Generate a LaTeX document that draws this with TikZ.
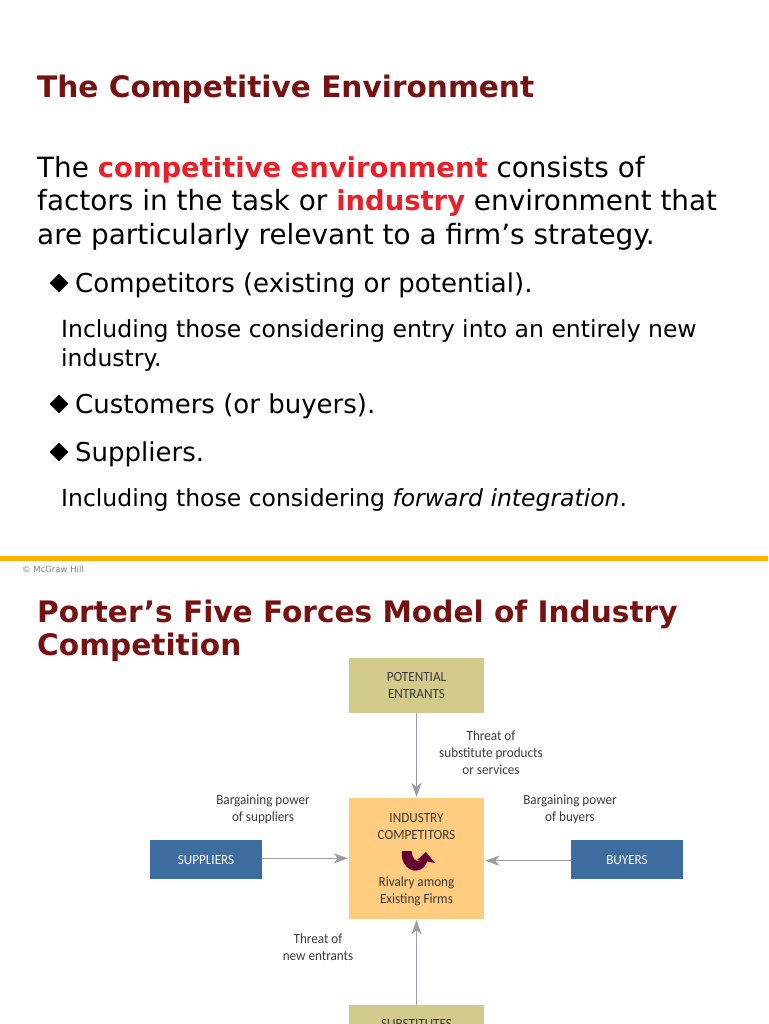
\documentclass[tikz,border=0pt]{standalone}
\usepackage{fontspec}
\setmainfont{DejaVu Sans}
\newfontfamily\figfont[FakeStretch=0.94]{Carlito}
\usetikzlibrary{arrows.meta,shapes}
\definecolor{titlered}{HTML}{761212}
\definecolor{keyred}{HTML}{E8202A}
\definecolor{rulegold}{HTML}{FFB300}
\definecolor{olivebox}{HTML}{D2CB8C}
\definecolor{orangebox}{HTML}{FFCC80}
\definecolor{bluebox}{HTML}{3D6CA0}
\definecolor{forcegray}{HTML}{9A9CA0}
\definecolor{figtext}{HTML}{3F3A3A}
\definecolor{swirl}{HTML}{660033}
\newcommand{\keyword}[1]{{\fontsize{27.4}{33.5}\selectfont\bfseries\color{keyred}#1}}
\tikzset{>=Stealth}
\tikzset{
  slidetitle/.style={anchor=base west,inner sep=0pt,align=left,text=titlered,font=\fontsize{29.6}{32.5}\selectfont\bfseries},
  bodytext/.style={anchor=base west,inner sep=0pt,align=left,font=\fontsize{27.9}{33.5}\selectfont},
  itemtext/.style={anchor=base west,inner sep=0pt,align=left,font=\fontsize{26}{30}\selectfont},
  subtext/.style={anchor=base west,inner sep=0pt,align=left,font=\fontsize{23.5}{29}\selectfont},
  itemmark/.style={diamond,fill=black,inner sep=0pt,minimum width=19pt,minimum height=19pt},
  forcebox/.style={inner sep=0pt,align=center,text=figtext,font=\figfont\fontsize{14}{17}\selectfont},
  forcenote/.style={inner sep=0pt,align=center,text=figtext,font=\figfont\fontsize{14}{17}\selectfont},
  forcearrow/.style={draw=forcegray,line width=1.5pt,-{Stealth[length=14pt,width=10pt,inset=4pt]},shorten >=1pt},
}
\begin{document}
\begin{tikzpicture}[x=1pt,y=-1pt]
\useasboundingbox (0,0) rectangle (768,1024);
\fill[white] (0,0) rectangle (768,1024);

\node[slidetitle] (title1) at (37,98) {The Competitive Environment};
\node[bodytext] (body) at (37,244) {The \keyword{competitive environment} consists of\\
factors in the task or \keyword{industry} environment that\\
are particularly relevant to a firm’s strategy.};

\node[itemmark] (mark1) at (59,283) {};
\node[itemtext] (item1) at (75,292) {Competitors (existing or potential).};
\node[subtext] (sub1) at (61,366) {Including those considering entry into an entirely new\\industry.};
\node[itemmark] (mark2) at (59,404) {};
\node[itemtext] (item2) at (75,413) {Customers (or buyers).};
\node[itemmark] (mark3) at (59,452) {};
\node[itemtext] (item3) at (75,461) {Suppliers.};
\node[subtext] (sub2) at (61,506) {Including those considering \textit{forward integration}.};

\fill[rulegold] (0,556) rectangle (768,561);
\node[anchor=base west,inner sep=0pt,text=gray,font=\fontsize{8.5}{10}\selectfont] (credit) at (22,572) {© McGraw Hill};

\node[slidetitle] (title2) at (37,655) {Porter’s Five Forces Model of Industry\\Competition};

\node[forcebox,fill=olivebox,minimum width=135pt,minimum height=55pt] (entrants) at (416.5,685.5) {POTENTIAL\\ENTRANTS};
\node[forcebox,fill=orangebox,minimum width=135pt,minimum height=121pt] (competitors) at (416.5,858.5) {};
\node[forcebox,anchor=center] (competitors1) at (416.5,826.5) {INDUSTRY\\COMPETITORS};
\node[forcebox,anchor=center] (competitors2) at (416.5,891) {Rivalry among\\Existing Firms};
\node[forcebox,fill=bluebox,text=white,minimum width=112pt,minimum height=39pt] (suppliers) at (206,859.5) {SUPPLIERS};
\node[forcebox,fill=bluebox,text=white,minimum width=112pt,minimum height=39pt] (buyers) at (627,859.5) {BUYERS};
\node[forcebox,fill=olivebox,minimum width=135pt,minimum height=55pt] (substitutes) at (416.5,1032.5) {SUBSTITUTES\\\phantom{X}};

\node[forcenote] (note1) at (491,752.5) {Threat of\\substitute products\\or services};
\node[forcenote] (note2) at (263,809.5) {Bargaining power\\of suppliers};
\node[forcenote] (note3) at (570,809.5) {Bargaining power\\of buyers};
\node[forcenote] (note4) at (318,947.5) {Threat of\\new entrants};

\draw[forcearrow] (entrants.south) -- (competitors.north);
\draw[forcearrow,line width=1pt] ([yshift=1.2pt]suppliers.east) -- ([yshift=1.2pt]suppliers.east -| competitors.west);
\draw[forcearrow] ([yshift=-1.2pt]buyers.west) -- ([yshift=-1.2pt]buyers.west -| competitors.east);
\draw[forcearrow] (substitutes.north) -- (competitors.south);

\fill[swirl] (402,851) .. controls (400,864) and (410,872) .. (417,870.5)
  .. controls (422,870) and (426,866) .. (427,861.5) -- (435,863) -- (426,852) -- (417,860) -- (421,861)
  .. controls (416,863) and (412,858) .. (411.5,851) -- cycle;
\end{tikzpicture}
\end{document}
